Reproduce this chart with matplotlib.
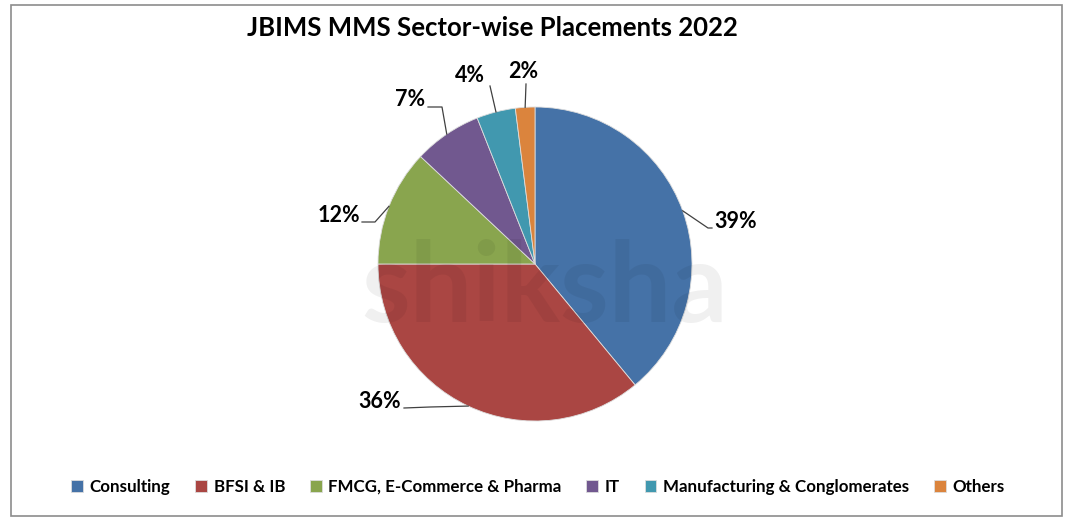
import matplotlib.pyplot as plt
from matplotlib.patches import Rectangle
import numpy as np

# --- Data ---
sectors = ["Consulting", "BFSI & IB", "FMCG, E-Commerce & Pharma", "IT",
           "Manufacturing & Conglomerates", "Others"]
shares = [39, 36, 12, 7, 4, 2]
colors = ["#4572A7", "#AA4643", "#89A54E", "#71588F", "#4198AF", "#DB843D"]

W, H = 1069, 525
fig = plt.figure(figsize=(W / 100, H / 100), dpi=100)
ax = fig.add_axes([0, 0, 1, 1])
ax.set_xlim(0, W)
ax.set_ylim(0, H)
ax.set_aspect("equal")
ax.axis("off")

# outer frame
ax.add_patch(Rectangle((11, 9), 1051, 511, fill=False, edgecolor="#8c8c8c", linewidth=1.2))

cx, cy, r = 535, 261, 157
wedges, _ = ax.pie(shares, colors=colors, startangle=90, counterclock=False,
                   center=(cx, cy), radius=r, frame=True,
                   wedgeprops=dict(edgecolor="#dddddd", linewidth=0.6))
ax.set_xlim(0, W)
ax.set_ylim(0, H)
ax.axis("off")

# watermark
ax.text(545, 235, "shiksha", fontsize=80, fontweight="bold", color="#000000",
        alpha=0.06, ha="center", va="center", family="Lato")

# label positions (text x,y) and elbow points, in pixels from top-left
label_pos = [(736, 221), (380, 402), (339, 216), (410, 100), (470, 76), (523, 72)]
elbows = [(708, 228), (430, 407), (375, 222), (442, 107), (490, 86), (526, 84)]
ends = [(712, 228), (404, 408), (362, 222), (428, 107), (490, 86), (526, 84)]

for w, v, (lx, ly), (ex, ey), (tx, ty) in zip(wedges, shares, label_pos, elbows, ends):
    ang = np.deg2rad((w.theta1 + w.theta2) / 2)
    px, py = cx + r * np.cos(ang), cy + r * np.sin(ang)
    ax.plot([px, ex, tx], [py, H - ey, H - ty], color="#404040", linewidth=0.9)
    ax.text(lx, H - ly, f"{v}%", fontsize=15.5, fontweight="bold", family="Lato",
            ha="center", va="center", color="black")

ax.text(492, H - 28, "JBIMS MMS Sector-wise Placements 2022", fontsize=18.5,
        fontweight="bold", family="Lato", ha="center", va="center")

leg = ax.legend(wedges, sectors, loc="center", bbox_to_anchor=(538 / W, 1 - 487 / H),
                ncol=6, frameon=False, handlelength=0.7, handleheight=0.7,
                handletextpad=0.4, columnspacing=1.45,
                prop={"family": "Lato", "weight": "bold", "size": 12.2})

fig.savefig("out.png", dpi=100, facecolor="white")
